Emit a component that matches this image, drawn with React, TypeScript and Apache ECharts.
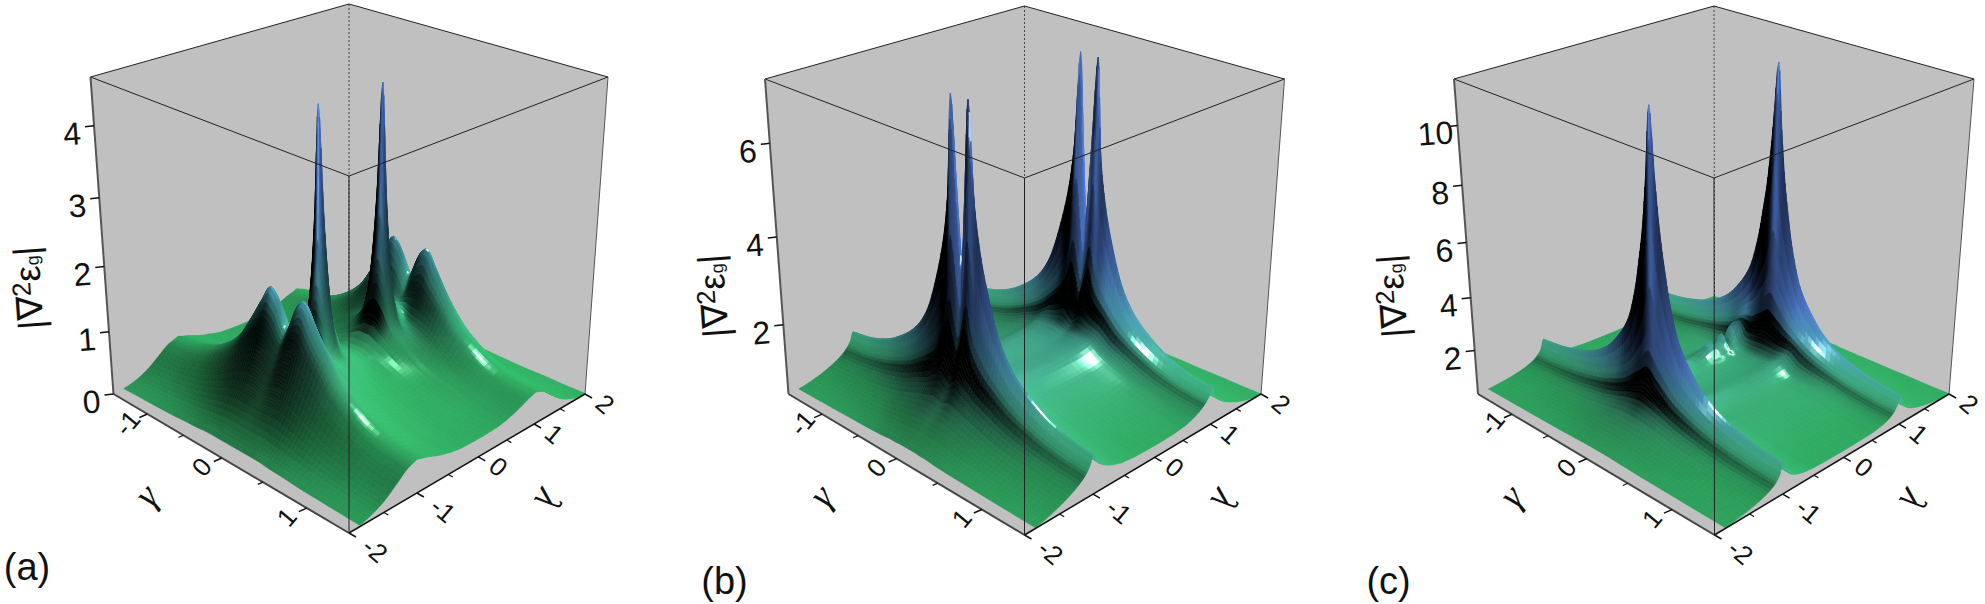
import React, { useEffect, useRef } from "react";
import * as echarts from "echarts";

// Height tables: rows are |gamma|, columns are |lambda|
const gammaKnots = [0, 0.05, 0.1, 0.15, 0.2, 0.3, 0.45, 0.6, 0.8, 1, 1.25, 1.5];
const lambdaKnots = [0, 0.3, 0.42, 0.47, 0.5, 0.53, 0.58, 0.7, 0.85, 0.95, 1, 1.05, 1.15, 1.3, 1.5, 1.7, 1.85, 2];

const surfaceA = [
  [0.75, 1.0, 1.6, 2.6, 4.45, 2.6, 1.6, 1.15, 1.2, 1.4, 1.5, 1.45, 1.25, 0.9, 0.5, 0.22, 0.1, 0.05],
  [0.75, 1.0, 1.5, 2.2, 3.0, 2.2, 1.5, 1.15, 1.28, 1.55, 1.62, 1.55, 1.32, 0.92, 0.5, 0.22, 0.1, 0.05],
  [0.75, 0.95, 1.35, 1.7, 2.0, 1.7, 1.35, 1.15, 1.36, 1.72, 1.82, 1.72, 1.42, 0.98, 0.5, 0.22, 0.1, 0.05],
  [0.72, 0.9, 1.15, 1.3, 1.4, 1.3, 1.15, 1.1, 1.4, 1.82, 1.95, 1.82, 1.48, 1.0, 0.5, 0.22, 0.1, 0.05],
  [0.7, 0.85, 1.0, 1.05, 1.1, 1.05, 1.0, 1.05, 1.42, 1.88, 2.0, 1.88, 1.5, 1.0, 0.5, 0.22, 0.1, 0.05],
  [0.65, 0.75, 0.85, 0.88, 0.9, 0.9, 0.9, 1.0, 1.32, 1.65, 1.78, 1.65, 1.36, 0.95, 0.48, 0.2, 0.1, 0.05],
  [0.58, 0.62, 0.7, 0.72, 0.75, 0.75, 0.78, 0.9, 1.15, 1.33, 1.4, 1.33, 1.13, 0.8, 0.42, 0.18, 0.08, 0.04],
  [0.5, 0.53, 0.58, 0.6, 0.62, 0.63, 0.65, 0.75, 0.92, 1.02, 1.06, 1.02, 0.9, 0.65, 0.35, 0.15, 0.07, 0.03],
  [0.42, 0.44, 0.48, 0.5, 0.5, 0.52, 0.53, 0.6, 0.72, 0.78, 0.8, 0.78, 0.7, 0.5, 0.27, 0.12, 0.05, 0.02],
  [0.36, 0.37, 0.4, 0.41, 0.42, 0.43, 0.44, 0.5, 0.58, 0.62, 0.64, 0.62, 0.56, 0.42, 0.22, 0.1, 0.04, 0.02],
  [0.3, 0.31, 0.33, 0.34, 0.35, 0.36, 0.37, 0.41, 0.48, 0.52, 0.53, 0.52, 0.47, 0.34, 0.18, 0.08, 0.03, 0.01],
  [0.28, 0.29, 0.31, 0.32, 0.33, 0.34, 0.35, 0.39, 0.45, 0.48, 0.5, 0.48, 0.44, 0.32, 0.16, 0.06, 0.02, 0.01],
];

const surfaceB = [
  [1.3, 1.32, 1.35, 1.37, 1.38, 1.4, 1.42, 1.5, 1.9, 2.8, 4.0, 2.7, 1.8, 1.25, 0.88, 0.6, 0.45, 0.38],
  [1.3, 1.33, 1.36, 1.38, 1.4, 1.42, 1.45, 1.55, 2.1, 3.4, 5.6, 3.2, 2.0, 1.3, 0.9, 0.6, 0.45, 0.38],
  [1.32, 1.35, 1.38, 1.4, 1.42, 1.44, 1.48, 1.6, 2.3, 4.0, 7.4, 3.8, 2.2, 1.35, 0.9, 0.6, 0.45, 0.38],
  [1.32, 1.35, 1.38, 1.4, 1.42, 1.44, 1.48, 1.58, 2.15, 3.3, 5.5, 3.1, 2.0, 1.3, 0.88, 0.58, 0.44, 0.38],
  [1.33, 1.35, 1.38, 1.4, 1.41, 1.43, 1.46, 1.55, 2.0, 2.9, 4.6, 2.7, 1.85, 1.25, 0.86, 0.57, 0.44, 0.37],
  [1.35, 1.37, 1.39, 1.4, 1.41, 1.42, 1.45, 1.52, 1.85, 2.45, 3.6, 2.3, 1.6, 1.15, 0.8, 0.55, 0.42, 0.36],
  [1.18, 1.19, 1.2, 1.21, 1.22, 1.23, 1.25, 1.32, 1.55, 2.0, 2.6, 1.9, 1.4, 1.02, 0.72, 0.5, 0.4, 0.35],
  [1.05, 1.06, 1.07, 1.08, 1.09, 1.1, 1.11, 1.18, 1.38, 1.68, 2.1, 1.6, 1.22, 0.9, 0.65, 0.48, 0.39, 0.35],
  [0.88, 0.89, 0.9, 0.91, 0.92, 0.93, 0.94, 1.0, 1.18, 1.4, 1.72, 1.35, 1.06, 0.8, 0.6, 0.45, 0.38, 0.34],
  [0.75, 0.76, 0.78, 0.79, 0.8, 0.8, 0.82, 0.88, 1.03, 1.22, 1.46, 1.18, 0.94, 0.74, 0.56, 0.43, 0.37, 0.34],
  [0.65, 0.66, 0.68, 0.69, 0.7, 0.7, 0.72, 0.78, 0.92, 1.08, 1.28, 1.05, 0.85, 0.68, 0.52, 0.41, 0.36, 0.33],
  [0.6, 0.61, 0.63, 0.64, 0.65, 0.65, 0.67, 0.73, 0.86, 1.02, 1.2, 1.0, 0.8, 0.64, 0.5, 0.4, 0.35, 0.33],
];

const surfaceC = [
  [1.0, 1.02, 1.05, 1.07, 1.08, 1.1, 1.12, 1.25, 2.0, 4.2, 11.4, 4.0, 2.0, 1.22, 0.82, 0.55, 0.42, 0.35],
  [1.0, 1.02, 1.05, 1.07, 1.08, 1.1, 1.12, 1.25, 1.95, 3.9, 9.2, 3.7, 1.95, 1.22, 0.82, 0.55, 0.42, 0.35],
  [1.02, 1.04, 1.06, 1.08, 1.09, 1.11, 1.13, 1.25, 1.9, 3.5, 7.4, 3.3, 1.85, 1.2, 0.82, 0.55, 0.42, 0.35],
  [1.05, 1.07, 1.08, 1.1, 1.11, 1.12, 1.14, 1.25, 1.85, 3.2, 6.2, 3.0, 1.78, 1.18, 0.8, 0.54, 0.42, 0.35],
  [1.08, 1.12, 1.15, 1.16, 1.17, 1.18, 1.2, 1.28, 1.8, 2.85, 5.2, 2.7, 1.68, 1.14, 0.78, 0.53, 0.41, 0.34],
  [1.1, 1.17, 1.22, 1.24, 1.26, 1.27, 1.3, 1.38, 1.72, 2.4, 3.9, 2.25, 1.48, 1.05, 0.74, 0.5, 0.4, 0.34],
  [1.0, 1.0, 1.0, 0.98, 0.97, 0.97, 0.98, 1.05, 1.42, 2.0, 3.0, 1.9, 1.28, 0.93, 0.68, 0.47, 0.38, 0.33],
  [0.92, 0.92, 0.92, 0.92, 0.92, 0.92, 0.93, 0.98, 1.25, 1.7, 2.4, 1.62, 1.13, 0.84, 0.62, 0.45, 0.37, 0.33],
  [0.82, 0.83, 0.84, 0.85, 0.85, 0.86, 0.87, 0.92, 1.1, 1.45, 1.95, 1.4, 0.98, 0.75, 0.57, 0.43, 0.36, 0.32],
  [0.7, 0.71, 0.72, 0.73, 0.73, 0.74, 0.75, 0.8, 0.96, 1.28, 1.7, 1.24, 0.88, 0.68, 0.52, 0.41, 0.35, 0.32],
  [0.6, 0.61, 0.62, 0.63, 0.63, 0.64, 0.65, 0.7, 0.86, 1.15, 1.5, 1.1, 0.8, 0.62, 0.48, 0.39, 0.34, 0.31],
  [0.55, 0.56, 0.57, 0.58, 0.58, 0.59, 0.6, 0.65, 0.8, 1.08, 1.4, 1.03, 0.76, 0.58, 0.45, 0.37, 0.33, 0.31],
];
// Panel (c) has a small jagged crest on the far side only: the row at gamma = -0.3
const surfaceCBackRow = [1.2, 1.6, 1.3, 1.45, 1.75, 1.45, 1.35, 2.0, 1.95, 2.5, 3.9, 2.25, 1.48, 1.05, 0.74, 0.5, 0.4, 0.34];

const gammaTicks = [-1, 0, 1];
const gammaMinorTicks = [-0.5, 0.5];
const lambdaTicks = [-2, -1, 0, 1, 2];
const lambdaMinorTicks = [-1.5, -0.5, 0.5, 1.5];
const zTicksA = [0, 1, 2, 3, 4];
const zTicksB = [2, 4, 6];
const zTicksC = [2, 4, 6, 8, 10];
const panelLetters = ["(a)", "(b)", "(c)"];

type Pt = [number, number];
const GAMMA_MIN = -1.5, GAMMA_MAX = 1.45, LAMBDA_MIN = -1.85, LAMBDA_MAX = 2;
const FONT = '"Liberation Sans", Arial, sans-serif';
const PERSPECTIVE_Z = 1.12;
const SUBDIV = 4;

const panels = [
  { table: surfaceA, backRow: null as number[] | null, zMin: 0, zMax: 4.65, zTicks: zTicksA, letter: [27, 567], title: [28.5, 288],
    top: [[349, 176], [608, 77], [349, 4], [90.5, 77]] as Pt[],
    bot: [[349, 533], [585, 394], [349, 296.5], [113.5, 394]] as Pt[] },
  { table: surfaceB, backRow: null as number[] | null, zMin: 0.33, zMax: 7.3, zTicks: zTicksB, letter: [724.5, 581], title: [713, 296],
    top: [[1024.5, 178], [1284.5, 79], [1024.5, 6], [765, 79]] as Pt[],
    bot: [[1024.5, 535], [1261, 394], [1024.5, 296.5], [788.5, 394]] as Pt[] },
  { table: surfaceC, backRow: surfaceCBackRow, zMin: 0.3, zMax: 11.5, zTicks: zTicksC, letter: [1388.6, 581], title: [1392, 296],
    top: [[1714, 178], [1974, 79], [1714, 6], [1454, 79]] as Pt[],
    bot: [[1714.5, 535], [1949, 394], [1714.5, 296.5], [1478, 394]] as Pt[] },
];

// Square to quad projective map
function homography(q: Pt[]) {
  const [p0, p1, p2, p3] = q;
  const sx = p0[0] - p1[0] + p2[0] - p3[0], sy = p0[1] - p1[1] + p2[1] - p3[1];
  const dx1 = p1[0] - p2[0], dx2 = p3[0] - p2[0], dy1 = p1[1] - p2[1], dy2 = p3[1] - p2[1];
  const den = dx1 * dy2 - dx2 * dy1;
  const g = (sx * dy2 - dx2 * sy) / den, h = (dx1 * sy - sx * dy1) / den;
  const a = p1[0] - p0[0] + g * p1[0], b = p3[0] - p0[0] + h * p3[0];
  const d = p1[1] - p0[1] + g * p1[1], e = p3[1] - p0[1] + h * p3[1];
  return (u: number, v: number): Pt => {
    const w = g * u + h * v + 1;
    return [(a * u + b * v + p0[0]) / w, (d * u + e * v + p0[1]) / w];
  };
}

function makeProjector(p: typeof panels[number]) {
  const hb = homography(p.bot), ht = homography(p.top);
  return (gamma: number, lambda: number, z: number): Pt => {
    const u = (lambda + 2) / 4, v = (GAMMA_MAX - gamma) / (GAMMA_MAX - GAMMA_MIN);
    const h = (z - p.zMin) / (p.zMax - p.zMin);
    const f = h / (PERSPECTIVE_Z + (1 - PERSPECTIVE_Z) * h);
    const b = hb(u, v), t = ht(u, v);
    return [b[0] + (t[0] - b[0]) * f, b[1] + (t[1] - b[1]) * f];
  };
}

// Smooth drawing of the read heights: monotone cubic through the knots
function monotoneSampler(xs: number[], samples: number[]) {
  const n = xs.length;
  const idx = samples.map((s) => {
    let k = 0;
    while (k < n - 2 && s > xs[k + 1]) k++;
    return k;
  });
  return (ys: number[]) => {
    const d: number[] = [];
    for (let i = 0; i < n - 1; i++) d.push((ys[i + 1] - ys[i]) / (xs[i + 1] - xs[i]));
    const m: number[] = [d[0]];
    for (let i = 1; i < n - 1; i++) {
      if (d[i - 1] * d[i] <= 0) m.push(0);
      else {
        const h0 = xs[i] - xs[i - 1], h1 = xs[i + 1] - xs[i];
        const w0 = 2 * h1 + h0, w1 = h1 + 2 * h0;
        m.push((w0 + w1) / (w0 / d[i - 1] + w1 / d[i]));
      }
    }
    m.push(d[n - 2]);
    return samples.map((s, j) => {
      const k = idx[j], h = xs[k + 1] - xs[k], t = (s - xs[k]) / h;
      const t2 = t * t, t3 = t2 * t;
      return (2 * t3 - 3 * t2 + 1) * ys[k] + (t3 - 2 * t2 + t) * h * m[k] + (-2 * t3 + 3 * t2) * ys[k + 1] + (t3 - t2) * h * m[k + 1];
    });
  };
}

function signedKnots(knots: number[]) {
  return [...knots.slice(1).reverse().map((k) => -k), ...knots];
}
function mirrored<T>(values: T[]) {
  return [...values.slice(1).reverse(), ...values];
}
function refine(knots: number[], lo: number, hi: number) {
  const out: number[] = [];
  for (let i = 0; i < knots.length - 1; i++)
    for (let s = 0; s < SUBDIV; s++) out.push(knots[i] + ((knots[i + 1] - knots[i]) * s) / SUBDIV);
  out.push(knots[knots.length - 1]);
  const kept = out.filter((x) => x > lo && x < hi);
  return [lo, ...kept, hi];
}

const COLOR_STOPS: [number, number, number, number][] = [
  [0.6, 46, 168, 96],
  [1.2, 62, 170, 130],
  [2.0, 72, 150, 172],
  [3.2, 78, 118, 200],
  [12, 66, 100, 180],
];
function baseColor(z: number) {
  for (let i = 0; i < COLOR_STOPS.length - 1; i++) {
    const a = COLOR_STOPS[i], b = COLOR_STOPS[i + 1];
    if (z <= b[0]) {
      const t = Math.max(0, (z - a[0]) / (b[0] - a[0]));
      return [a[1] + (b[1] - a[1]) * t, a[2] + (b[2] - a[2]) * t, a[3] + (b[3] - a[3]) * t];
    }
  }
  return COLOR_STOPS[COLOR_STOPS.length - 1].slice(1);
}
function norm(v: number[]) {
  const l = Math.hypot(v[0], v[1], v[2]);
  return [v[0] / l, v[1] / l, v[2] / l];
}
const LIGHT = norm([0.35, 0.3, 0.89]);
const HALF = norm([-0.1, 0.3, 0.95]);
const SLOPE_SCALE = 0.6;
const NORMAL_SPAN_LAMBDA = 0.14;
const NORMAL_SPAN_GAMMA = 0.09;

// Indices of the mesh lines that lie about `span` either side of a cell
function stencil(mesh: number[], span: number) {
  const out: [number, number][] = [];
  for (let c = 0; c < mesh.length - 1; c++) {
    const m = (mesh[c] + mesh[c + 1]) / 2;
    let a = c, b = c + 1;
    while (a > 0 && m - mesh[a] < span) a--;
    while (b < mesh.length - 1 && mesh[b] - m < span) b++;
    out.push([a, b]);
  }
  return out;
}

type Quad = { pts: Pt[]; color: string };
function buildQuads(p: typeof panels[number]): Quad[] {
  const project = makeProjector(p);
  const sLam = signedKnots(lambdaKnots), sGam = signedKnots(gammaKnots);
  const fLam = refine(sLam, LAMBDA_MIN, LAMBDA_MAX), fGam = refine(sGam, GAMMA_MIN, GAMMA_MAX);
  const alongLam = monotoneSampler(sLam, fLam);
  const alongGam = monotoneSampler(sGam, fGam);
  const rows = p.table.map((r) => alongLam(mirrored(r)));
  const signedRows = mirrored(rows);
  if (p.backRow) signedRows[gammaKnots.length - 1 - gammaKnots.indexOf(0.3)] = alongLam(mirrored(p.backRow));
  const cols = fLam.map((_, j) => alongGam(signedRows.map((r) => r[j])));
  const Z = (i: number, j: number) => cols[j][i];
  const span = p.zMax - p.zMin;
  const stL = stencil(fLam, NORMAL_SPAN_LAMBDA), stG = stencil(fGam, NORMAL_SPAN_GAMMA);
  const quads: Quad[] = [];
  for (let i = 0; i < fGam.length - 1; i++) {
    for (let j = fLam.length - 2; j >= 0; j--) {
      const g0 = fGam[i], g1 = fGam[i + 1], l0 = fLam[j], l1 = fLam[j + 1];
      const z00 = Z(i, j), z01 = Z(i, j + 1), z10 = Z(i + 1, j), z11 = Z(i + 1, j + 1);
      const [ja, jb] = stL[j], [ia, ib] = stG[i];
      const sl = (Z(i, jb) + Z(i + 1, jb) - Z(i, ja) - Z(i + 1, ja)) / 2 / (fLam[jb] - fLam[ja]);
      const sg = (Z(ib, j) + Z(ib, j + 1) - Z(ia, j) - Z(ia, j + 1)) / 2 / (fGam[ib] - fGam[ia]);
      const dzdl = sl * 4 * (SLOPE_SCALE / span);
      const dzdg = sg * 2.95 * (SLOPE_SCALE / span);
      const n = norm([-dzdl, -dzdg, 1]);
      const zm = (z00 + z01 + z10 + z11) / 4;
      const base = baseColor(zm);
      const diff = Math.max(0, n[0] * LIGHT[0] + n[1] * LIGHT[1] + n[2] * LIGHT[2]) / LIGHT[2];
      const shade = Math.pow(diff, 1.3);
      const sd = Math.max(0, n[0] * HALF[0] + n[1] * HALF[1] + n[2] * HALF[2]);
      const spec = 0.95 * Math.pow(sd, 500);
      const rgb = base.map((c) => Math.min(255, Math.round(c * shade + 255 * spec)));
      quads.push({
        pts: [project(g0, l0, z00), project(g0, l1, z01), project(g1, l1, z11), project(g1, l0, z10)],
        color: `rgb(${rgb[0]},${rgb[1]},${rgb[2]})`,
      });
    }
  }
  return quads;
}

function buildOption() {
  const series: any[] = [];
  const graphics: any[] = [];
  const text = (t: string, x: number, y: number, size: number, rot = 0, extra: any = {}) => ({
    type: "text", x, y, rotation: (rot * Math.PI) / 180, z: 50, silent: true,
    style: { text: t, fontSize: size, fontFamily: FONT, fill: "#111", align: "center", verticalAlign: "middle", ...extra },
  });

  panels.forEach((p, pi) => {
    const project = makeProjector(p);
    const [bf, br, bb, bl] = p.bot;
    const [tf, tr, tb, tl] = p.top;

    series.push({
      type: "custom", coordinateSystem: "cartesian2d", clip: false, silent: true, z: 1, data: [[pi]],
      renderItem: (_: any, api: any) => ({
        type: "group",
        children: [
          { type: "polygon", shape: { points: [tl, tb, tr, br, bf, bl].map((q) => api.coord(q)) }, style: { fill: "#c0c0c0", stroke: "none" } },
          { type: "line", shape: { x1: api.coord(tb)[0], y1: api.coord(tb)[1], x2: api.coord(bb)[0], y2: api.coord(bb)[1] }, style: { stroke: "#444", lineWidth: 1, lineDash: [2, 2] } },
          { type: "polyline", shape: { points: [tl, tb, tr].map((q) => api.coord(q)) }, style: { stroke: "#222", lineWidth: 1, fill: "none" } },
        ],
      }),
    });

    const quads = buildQuads(p);
    series.push({
      type: "custom", coordinateSystem: "cartesian2d", clip: false, silent: true, z: 2, progressive: 0,
      data: quads.map((_, i) => [i]),
      renderItem: (params: any, api: any) => {
        const q = quads[params.dataIndex];
        return {
          type: "polygon",
          shape: { points: q.pts.map((c) => api.coord(c)) },
          style: { fill: q.color, stroke: q.color, lineWidth: 0.6 },
        };
      },
    });

    const tickLines: [Pt, Pt, number, string][] = [];
    gammaTicks.forEach((g) => {
      const a = project(g, -2, p.zMin);
      tickLines.push([a, [a[0] - 8, a[1] + 3.5], 1.5, "#111"]);
      graphics.push(text(String(g), a[0] - 20, a[1] + 9, 26, 50));
    });
    gammaMinorTicks.forEach((g) => {
      const a = project(g, -2, p.zMin);
      tickLines.push([a, [a[0] - 5, a[1] + 2.2], 1.2, "#111"]);
    });
    lambdaTicks.forEach((l) => {
      const a = project(GAMMA_MAX, l, p.zMin);
      tickLines.push([a, [a[0] + 7, a[1] + 4], 1.5, "#111"]);
      graphics.push(text(String(l), a[0] + (l < 0 ? 26 : 20), a[1] + (l < 0 ? 17 : 10), 26, -40));
    });
    lambdaMinorTicks.forEach((l) => {
      const a = project(GAMMA_MAX, l, p.zMin);
      tickLines.push([a, [a[0] + 4.5, a[1] + 2.6], 1.2, "#111"]);
    });
    p.zTicks.forEach((z) => {
      const a = project(GAMMA_MIN, -2, z);
      tickLines.push([a, [a[0] - 9, a[1] + 1], 1.5, "#111"]);
      graphics.push(text(String(z), a[0] - 22, a[1] + 8, 32, 4));
    });

    series.push({
      type: "custom", coordinateSystem: "cartesian2d", clip: false, silent: true, z: 3, data: [[pi]],
      renderItem: (_: any, api: any) => {
        const line = (a: Pt, b: Pt, w: number, c: string) => {
          const s = api.coord(a), e = api.coord(b);
          return { type: "line", shape: { x1: s[0], y1: s[1], x2: e[0], y2: e[1] }, style: { stroke: c, lineWidth: w } };
        };
        return {
          type: "group",
          children: [
            line(tl, tf, 1, "#222"),
            line(tf, tr, 1, "#222"),
            line(tf, bf, 1, "#222"),
            line(tr, br, 1, "#555"),
            line(tl, bl, 2, "#555"),
            line(bl, bf, 2, "#444"),
            line(bf, br, 1.5, "#111"),
            ...tickLines.map((t) => line(t[0], t[1], t[2], t[3])),
          ],
        };
      },
    });

    const gName = project(0.15, -2, p.zMin);
    const lName = project(GAMMA_MAX, 0.75, p.zMin);
    graphics.push(text("γ", gName[0] - 88, gName[1] + 30, 38, 50, { fontFamily: '"Liberation Serif", serif', fontStyle: "italic" }));
    graphics.push(text("λ", lName[0] + 28, lName[1] + 68, 38, -120, { fontFamily: '"Liberation Serif", serif', fontStyle: "italic" }));
    graphics.push(text(panelLetters[pi], p.letter[0], p.letter[1], 38));
    graphics.push({
      type: "text", x: p.title[0], y: p.title[1], rotation: (94 * Math.PI) / 180, z: 50, silent: true,
      style: {
        text: "|∇{sup|2}ε{sub|g}|", fontSize: 36, fontFamily: FONT, fill: "#111", align: "center", verticalAlign: "middle",
        rich: {
          sup: { fontSize: 26, fontFamily: FONT, fill: "#111", padding: [0, 0, 14, 0] },
          sub: { fontSize: 18, fontFamily: FONT, fill: "#111", padding: [12, 0, 0, 0] },
        },
      },
    });
  });

  return {
    animation: false,
    backgroundColor: "#ffffff",
    grid: { left: 0, top: 0, right: 0, bottom: 0 },
    xAxis: { type: "value", min: 0, max: 1985, show: false },
    yAxis: { type: "value", min: 0, max: 604, inverse: true, show: false },
    series,
    graphic: { elements: graphics },
  };
}

export default function App() {
  const ref = useRef<HTMLDivElement>(null);
  useEffect(() => {
    const chart = echarts.init(ref.current!, undefined, { renderer: "svg" });
    chart.setOption(buildOption());
    return () => chart.dispose();
  }, []);
  return <div ref={ref} style={{ position: "absolute", left: 0, top: 0, width: 1985, height: 604 }} />;
}
